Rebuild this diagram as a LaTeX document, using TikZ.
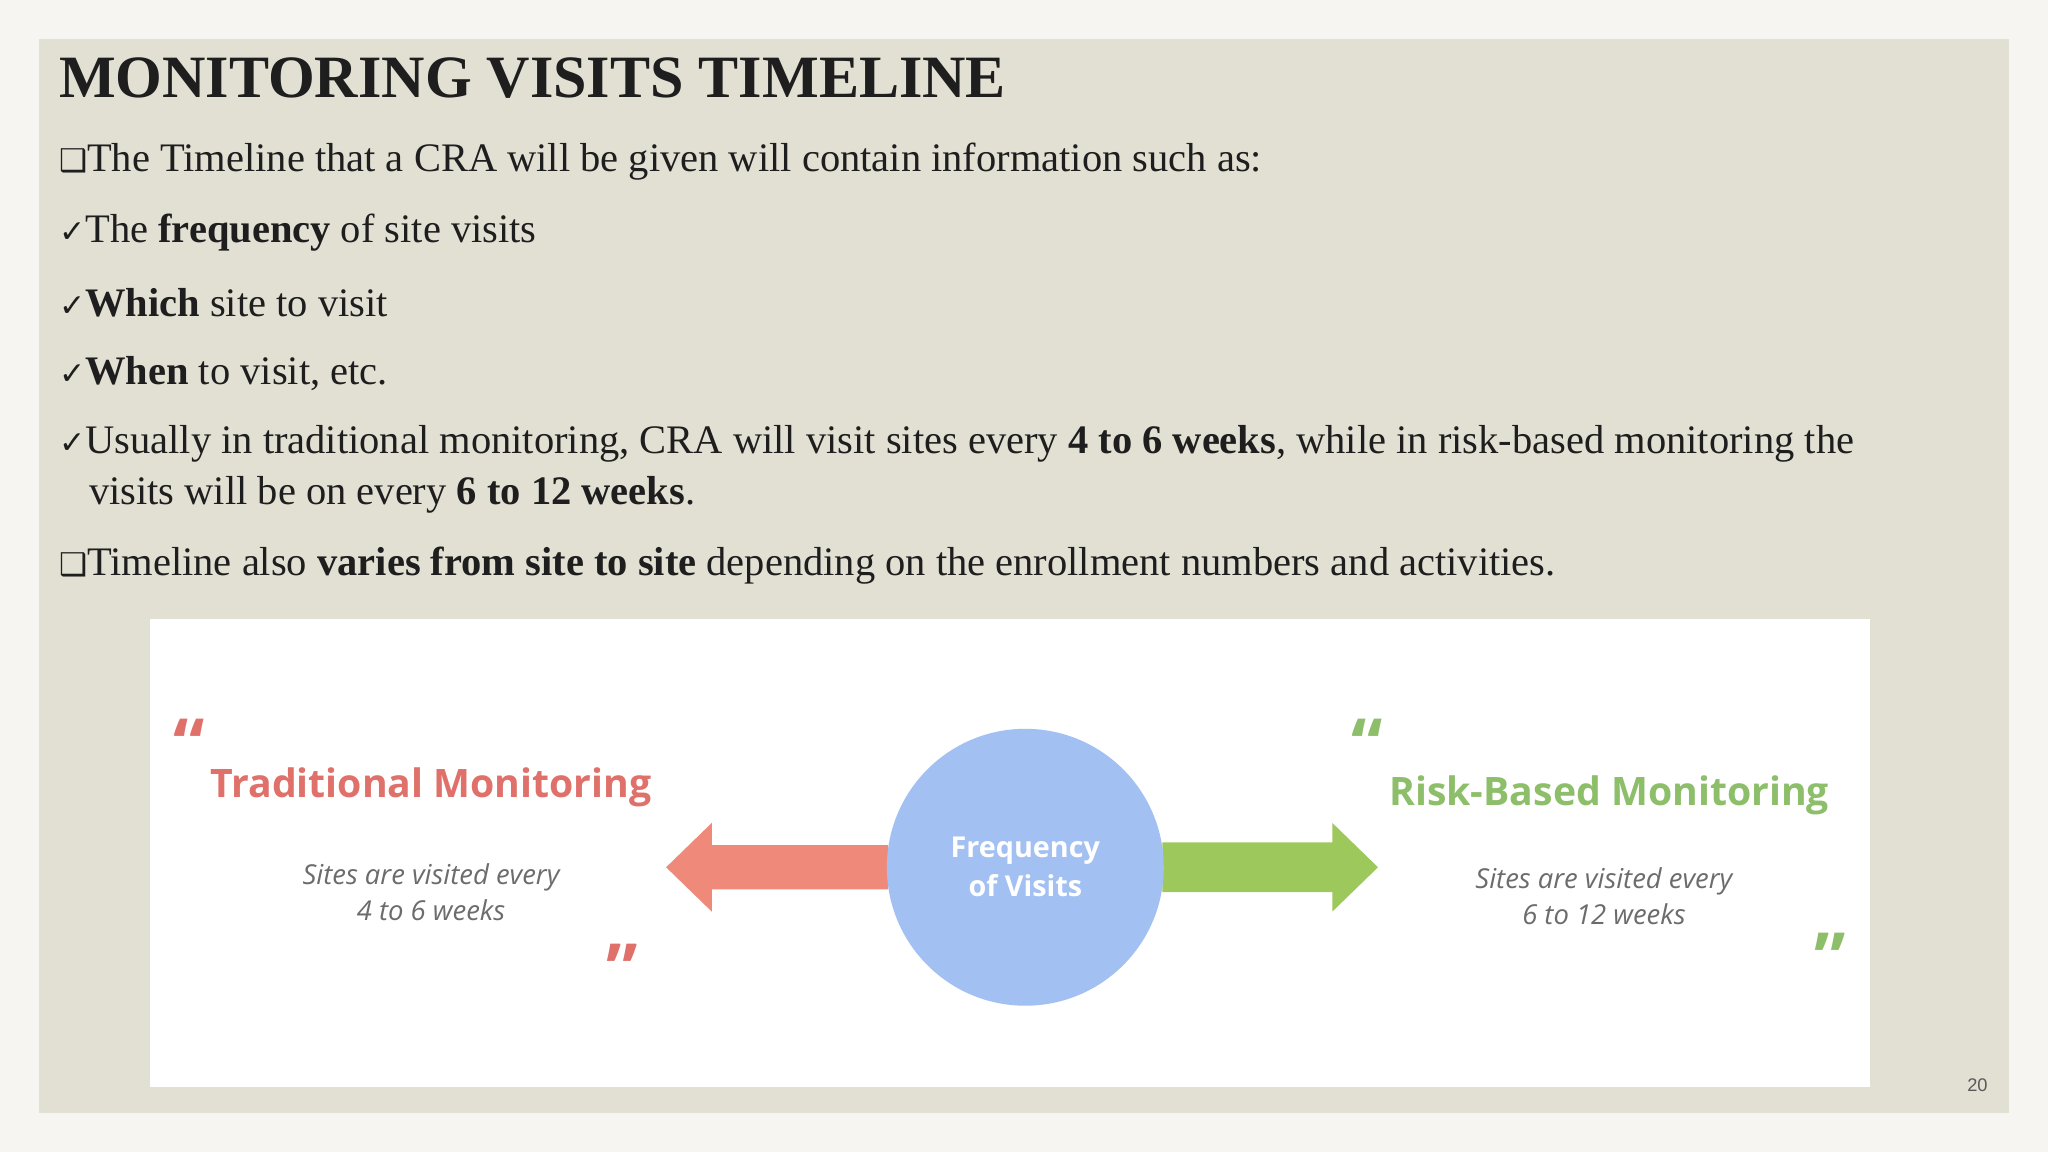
\documentclass[tikz,border=0pt]{standalone}
\usepackage{fontspec}
\setmainfont{Liberation Serif}
\setsansfont{Liberation Sans}
\newfontfamily\dv{DejaVu Sans}
\newfontfamily\rob{Open Sans}
\definecolor{bgpage}{HTML}{F6F5F1}
\definecolor{panel}{HTML}{E2DFD3}
\definecolor{circ}{HTML}{A3C0F2}
\definecolor{redarr}{HTML}{EF8A7A}
\definecolor{greenarr}{HTML}{9DC85C}
\definecolor{redtxt}{HTML}{E0706A}
\definecolor{greentxt}{HTML}{8DBE6A}
\definecolor{txt}{HTML}{1E1E1E}
\begin{document}
\begin{tikzpicture}[x=1pt,y=-1pt,
  body/.style={anchor=west,inner sep=0pt,font=\fontsize{31}{36}\selectfont,text=txt},
  sub/.style={font=\rob\itshape\fontsize{21}{28}\selectfont,text=gray!85!black,align=center},
  quo/.style={font=\rob\bfseries\fontsize{54}{54}\selectfont}]
\useasboundingbox (0,0) rectangle (1568,882);
\fill[bgpage] (0,0) rectangle (1568,882);
\fill[panel] (30,30) rectangle (1538,852);
\node[anchor=west,inner sep=0pt,font=\bfseries\fontsize{46}{50}\selectfont,text=txt] (title) at (45,60) {MONITORING VISITS TIMELINE};
\node[body] (l1) at (45,124) {{\dv\fontsize{24}{28}\selectfont ❑}The Timeline that a CRA will be given will contain information such as:};
\node[body] (l2) at (45,178) {{\dv\fontsize{24}{28}\selectfont ✓}The \textbf{frequency} of site visits};
\node[body] (l3) at (45,232) {{\dv\fontsize{24}{28}\selectfont ✓}\textbf{Which} site to visit};
\node[body] (l4) at (45,286) {{\dv\fontsize{24}{28}\selectfont ✓}\textbf{When} to visit, etc.};
\node[body] (l5) at (45,340) {{\dv\fontsize{24}{28}\selectfont ✓}Usually in traditional monitoring, CRA will visit sites every \textbf{4 to 6 weeks}, while in risk-based monitoring the};
\node[body] (l6) at (68,379) {visits will be on every \textbf{6 to 12 weeks}.};
\node[body] (l7) at (45,433) {{\dv\fontsize{24}{28}\selectfont ❑}Timeline also \textbf{varies from site to site} depending on the enrollment numbers and activities.};
\fill[white] (115,474) rectangle (1432,832);
\fill[redarr] (680,647) -- (545,647) -- (545,630) -- (510,664) -- (545,698) -- (545,681) -- (680,681) -- cycle;
\fill[greenarr] (890,645) -- (1020,645) -- (1020,630) -- (1055,664) -- (1020,698) -- (1020,683) -- (890,683) -- cycle;
\node[circle,fill=circ,minimum size=212pt,inner sep=0pt,text=white,align=center,font=\rob\bfseries\fontsize{22}{30}\selectfont] (c) at (785,664) {Frequency\\of Visits};
\node[text=redtxt,font=\rob\bfseries\fontsize{30}{34}\selectfont] (tm) at (330,603) {Traditional Monitoring};
\node[text=greentxt,font=\rob\bfseries\fontsize{30}{34}\selectfont] (rm) at (1232,609) {Risk-Based Monitoring};
\node[sub] (ts) at (330,683) {Sites are visited every\\4 to 6 weeks};
\node[sub] (rs) at (1228,686) {Sites are visited every\\6 to 12 weeks};
\node[quo,text=redtxt] (q1) at (145,570) {“};
\node[quo,text=redtxt] (q2) at (476,742) {”};
\node[quo,text=greentxt] (q3) at (1047,570) {“};
\node[quo,text=greentxt] (q4) at (1401,734) {”};
\node[font=\sffamily\fontsize{14}{16}\selectfont,text=gray!70!black] (pg) at (1514,831) {20};
\end{tikzpicture}
\end{document}
